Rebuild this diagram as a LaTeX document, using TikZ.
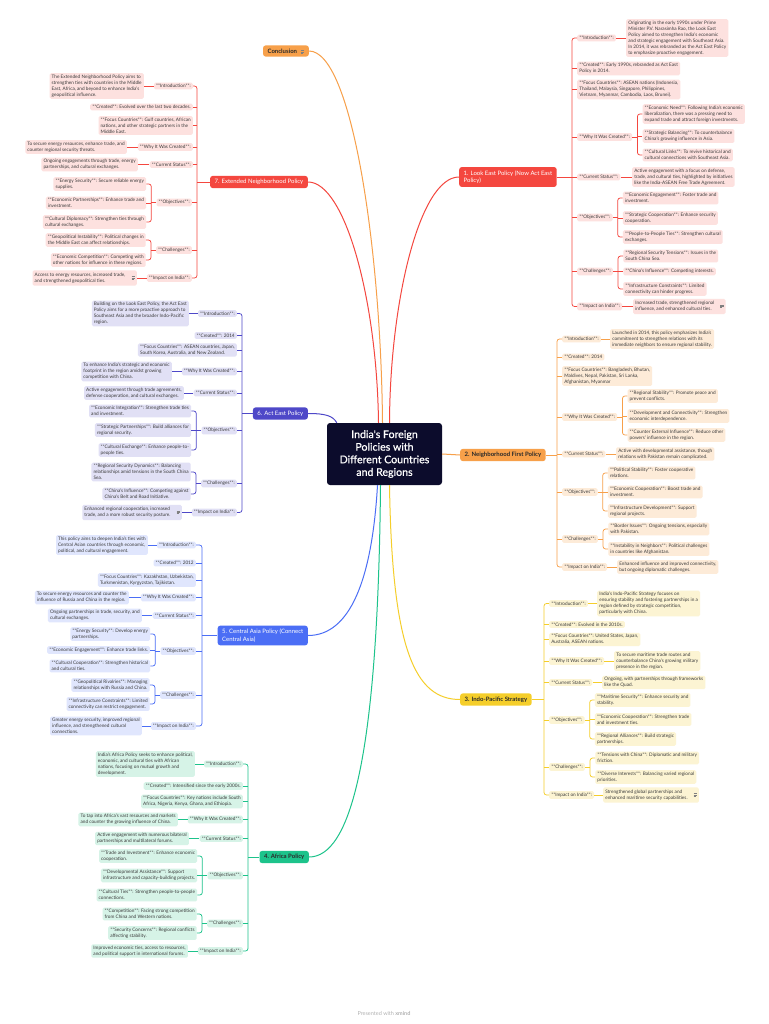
\documentclass[tikz,border=0pt]{standalone}
\usepackage{fontspec}
\setmainfont{Lato}
\newfontfamily\ctrfont[FakeBold=0.8]{Lato}
\usetikzlibrary{calc}
\definecolor{redM}{HTML}{F4473F}
\definecolor{redL}{HTML}{FDE1DF}
\definecolor{orgM}{HTML}{F7A04A}
\definecolor{orgL}{HTML}{FDEBD8}
\definecolor{yelM}{HTML}{F5CE2B}
\definecolor{yelL}{HTML}{FCF4D3}
\definecolor{grnM}{HTML}{1DC38B}
\definecolor{grnL}{HTML}{D6F3E7}
\definecolor{bluM}{HTML}{4B6EF5}
\definecolor{bluL}{HTML}{E0E6FD}
\definecolor{indM}{HTML}{4E48C8}
\definecolor{indL}{HTML}{E1E0F5}
\definecolor{navy}{HTML}{0C0C2C}
\definecolor{txtc}{HTML}{3A3A3A}
\definecolor{dtxt}{HTML}{2A2A2A}
\newcommand\noteic{\textcolor{gray}{\raisebox{0.2pt}{\vbox{\hrule width 3.2pt height 0.4pt \vskip 0.7pt \hrule width 3.2pt height 0.4pt \vskip 0.7pt \hrule width 2pt height 0.4pt}}}}
\tikzset{
  bx/.style={rounded corners=1.5pt, inner xsep=2.1pt, inner ysep=1.6pt, font=\fontsize{4.7}{6}\selectfont, align=left, text=txtc},
  rR/.style={bx, fill=redL, anchor=west}, rL/.style={bx, fill=redL, anchor=east},
  oR/.style={bx, fill=orgL, anchor=west},
  yR/.style={bx, fill=yelL, anchor=west},
  iL/.style={bx, fill=indL, anchor=east},
  bL/.style={bx, fill=bluL, anchor=east},
  gL/.style={bx, fill=grnL, anchor=east},
  mn/.style={rounded corners=2.5pt, inner xsep=4.5pt, inner ysep=3.3pt, font=\fontsize{6}{7.5}\selectfont, align=left},
  mnw/.style={mn, text=white},
  mnd/.style={mn, text=dtxt, font=\fontsize{6}{7.5}\selectfont\bfseries},
  rl/.style={draw=redM, line width=0.75pt, rounded corners=2.5pt},
  ol/.style={draw=orgM, line width=0.75pt, rounded corners=2.5pt},
  yl/.style={draw=yelM, line width=0.75pt, rounded corners=2.5pt},
  il/.style={draw=indM, line width=0.75pt, rounded corners=2.5pt},
  bl/.style={draw=bluM, line width=0.75pt, rounded corners=2.5pt},
  gl/.style={draw=grnM, line width=0.75pt, rounded corners=2.5pt},
  cv/.style={line width=1pt},
}
\begin{document}
\begin{tikzpicture}[x=1pt,y=-1pt]
\useasboundingbox[fill=white] (0,0) rectangle (768,1024);

% ---------- center ----------
\node[fill=navy, rounded corners=3pt, minimum width=115pt, minimum height=62pt, text=white, align=center, font=\ctrfont\fontsize{10.6}{12.6}\selectfont] (ctr) at (384.5,454) {India's Foreign\\Policies with\\Different Countries\\and Regions};

% ---------- main topics ----------
\node[mnw, fill=redM, anchor=west] (A) at (459,177) {1. Look East Policy (Now Act East\\Policy)};
\node[mnd, fill=orgM, anchor=west] (B) at (460,455) {2. Neighborhood First Policy};
\node[mnd, fill=yelM, anchor=west] (C) at (460,699.5) {3. Indo-Pacific Strategy};
\node[mnd, fill=grnM, anchor=east] (G) at (309,857) {4. Africa Policy};
\node[mnw, fill=bluM, anchor=east] (F) at (308,635.5) {5. Central Asia Policy (Connect\\Central Asia)};
\node[mnw, fill=indM, anchor=east] (E) at (308,413.5) {6. Act East Policy};
\node[mnw, fill=redM, anchor=east] (D) at (308,182) {7. Extended Neighborhood Policy};
\node[mnd, fill=orgM, anchor=east] (K) at (309,51) {Conclusion\hspace{4pt}\noteic};

% ---------- main curves ----------
\draw[cv, draw=orgM] (K.east) .. controls (352,51) and (381,250) .. ([xshift=-2pt]ctr.north);
\draw[cv, draw=redM] (D.east) .. controls (345,182) and (377,300) .. ([xshift=-6pt]ctr.north);
\draw[cv, draw=redM] (A.west) .. controls (420,177) and (390,300) .. ([xshift=5pt]ctr.north);
\draw[cv, draw=indM] (E.east) .. controls (326,413.5) and (333,416) .. ([xshift=10pt]ctr.north west);
\draw[cv, draw=orgM] (ctr.east) -- (B.west);
\draw[cv, draw=bluM] ([xshift=-7pt]ctr.south) .. controls (372,580) and (350,635.5) .. (F.east);
\draw[cv, draw=grnM] ([xshift=-4pt]ctr.south) .. controls (378,760) and (350,857) .. (G.east);
\draw[cv, draw=yelM] ([xshift=5pt]ctr.south) .. controls (392,650) and (415,699.5) .. (C.west);

% ================= 1. Look East =================
\node[rR] (a1) at (577,38) {**Introduction**:};
\node[rR] (a1d) at (626,38) {Originating in the early 1990s under Prime\\Minister P.V. Narasimha Rao, the Look East\\Policy aimed to strengthen India's economic\\and strategic engagement with Southeast Asia.\\In 2014, it was rebranded as the Act East Policy\\to emphasize proactive engagement.};
\node[rR] (a2) at (577,68.5) {**Created**: Early 1990s, rebranded as Act East\\Policy in 2014.};
\node[rR] (a3) at (577,89.5) {**Focus Countries**: ASEAN nations (Indonesia,\\Thailand, Malaysia, Singapore, Philippines,\\Vietnam, Myanmar, Cambodia, Laos, Brunei).};
\node[rR] (a4) at (577,137) {**Why It Was Created**:};
\node[rR] (a4a) at ($(a4.east |- 0,114)+(10,0)$) {**Economic Need**: Following India's economic\\liberalization, there was a pressing need to\\expand trade and attract foreign investments.};
\node[rR] (a4b) at ($(a4.east |- 0,136)+(10,0)$) {**Strategic Balancing**: To counterbalance\\China's growing influence in Asia.};
\node[rR] (a4c) at ($(a4.east |- 0,155)+(10,0)$) {**Cultural Links**: To revive historical and\\cultural connections with Southeast Asia.};
\node[rR] (a5) at (577,177) {**Current Status**:};
\node[rR] (a5d) at (632,177) {Active engagement with a focus on defense,\\trade, and cultural ties, highlighted by initiatives\\like the India-ASEAN Free Trade Agreement.};
\node[rR] (a6) at (577,217.5) {**Objectives**:};
\node[rR] (a6a) at ($(a6.east |- 0,198)+(10,0)$) {**Economic Engagement**: Foster trade and\\investment.};
\node[rR] (a6b) at ($(a6.east |- 0,218)+(10,0)$) {**Strategic Cooperation**: Enhance security\\cooperation.};
\node[rR] (a6c) at ($(a6.east |- 0,237)+(10,0)$) {**People-to-People Ties**: Strengthen cultural\\exchanges.};
\node[rR] (a7) at (577,271.5) {**Challenges**:};
\node[rR] (a7a) at ($(a7.east |- 0,256)+(10,0)$) {**Regional Security Tensions**: Issues in the\\South China Sea.};
\node[rR] (a7b) at ($(a7.east |- 0,271.5)+(10,0)$) {**China's Influence**: Competing interests.};
\node[rR] (a7c) at ($(a7.east |- 0,289)+(10,0)$) {**Infrastructure Constraints**: Limited\\connectivity can hinder progress.};
\node[rR] (a8) at (577,306.5) {**Impact on India**:};
\node[rR] (a8d) at (633,306.5) {\begin{tabular}{@{}l@{}}Increased trade, strengthened regional\\influence, and enhanced cultural ties.\end{tabular}\hspace{6pt}\noteic};

\coordinate (As) at (572,177);
\draw[rl] (A.east) -- (As);
\draw[rl] (a1.west) -| (As) |- (a8.west);
\foreach \n in {a2,a3,a4,a5,a6,a7} \draw[rl] (As |- \n.west) -- (\n.west);
\foreach \n in {a1,a5,a8} \draw[rl] (\n.east) -- (\n d.west);
\foreach \p/\f/\l/\m in {a4/a4a/a4c/a4b, a6/a6a/a6c/a6b, a7/a7a/a7c/a7b} {
  \coordinate (\p s) at ($(\p.east)+(5,0)$);
  \draw[rl] (\p.east) -- (\p s);
  \draw[rl] (\f.west) -| (\p s) |- (\l.west);
  \draw[rl] (\p s |- \m.west) -- (\m.west);
}

% ================= 2. Neighborhood First =================
\node[oR] (b1) at (562,339) {**Introduction**:};
\node[oR] (b1d) at (610,339) {Launched in 2014, this policy emphasizes India's\\commitment to strengthen relations with its\\immediate neighbors to ensure regional stability.};
\node[oR] (b2) at (562,357) {**Created**: 2014};
\node[oR] (b3) at (562,376) {**Focus Countries**: Bangladesh, Bhutan,\\Maldives, Nepal, Pakistan, Sri Lanka,\\Afghanistan, Myanmar};
\node[oR] (b4) at (562,417) {**Why It Was Created**:};
\node[oR] (b4a) at ($(b4.east |- 0,396)+(10,0)$) {**Regional Stability**: Promote peace and\\prevent conflicts.};
\node[oR] (b4b) at ($(b4.east |- 0,416)+(10,0)$) {**Development and Connectivity**: Strengthen\\economic interdependence.};
\node[oR] (b4c) at ($(b4.east |- 0,435)+(10,0)$) {**Counter External Influence**: Reduce other\\powers' influence in the region.};
\node[oR] (b5) at (562,454) {**Current Status**:};
\node[oR] (b5d) at (616,454) {Active with developmental assistance, though\\relations with Pakistan remain complicated.};
\node[oR] (b6) at (562,492) {**Objectives**:};
\node[oR] (b6a) at ($(b6.east |- 0,473)+(10,0)$) {**Political Stability**: Foster cooperative\\relations.};
\node[oR] (b6b) at ($(b6.east |- 0,492)+(10,0)$) {**Economic Cooperation**: Boost trade and\\investment.};
\node[oR] (b6c) at ($(b6.east |- 0,511)+(10,0)$) {**Infrastructure Development**: Support\\regional projects.};
\node[oR] (b7) at (562,539) {**Challenges**:};
\node[oR] (b7a) at ($(b7.east |- 0,529)+(10,0)$) {**Border Issues**: Ongoing tensions, especially\\with Pakistan.};
\node[oR] (b7b) at ($(b7.east |- 0,549)+(10,0)$) {**Instability in Neighbors**: Political challenges\\in countries like Afghanistan.};
\node[oR] (b8) at (562,567) {**Impact on India**:};
\node[oR] (b8d) at (617,567) {Enhanced influence and improved connectivity,\\but ongoing diplomatic challenges.};

\coordinate (Bs) at (557,455);
\draw[ol] (B.east) -- (Bs);
\draw[ol] (b1.west) -| (Bs) |- (b8.west);
\foreach \n in {b2,b3,b4,b5,b6,b7} \draw[ol] (Bs |- \n.west) -- (\n.west);
\foreach \n in {b1,b5,b8} \draw[ol] (\n.east) -- (\n d.west);
\foreach \p/\f/\l/\m in {b4/b4a/b4c/b4b, b6/b6a/b6c/b6b} {
  \coordinate (\p s) at ($(\p.east)+(5,0)$);
  \draw[ol] (\p.east) -- (\p s);
  \draw[ol] (\f.west) -| (\p s) |- (\l.west);
  \draw[ol] (\p s |- \m.west) -- (\m.west);
}
\coordinate (b7s) at ($(b7.east)+(5,0)$);
\draw[ol] (b7.east) -- (b7s);
\draw[ol] (b7a.west) -| (b7s) |- (b7b.west);

% ================= 3. Indo-Pacific =================
\node[yR] (c1) at (549,603.5) {**Introduction**:};
\node[yR] (c1d) at (597,603.5) {India's Indo-Pacific Strategy focuses on\\ensuring stability and fostering partnerships in a\\region defined by strategic competition,\\particularly with China.};
\node[yR] (c2) at (549,624.5) {**Created**: Evolved in the 2010s.};
\node[yR] (c3) at (549,639.5) {**Focus Countries**: United States, Japan,\\Australia, ASEAN nations.};
\node[yR] (c4) at (549,661) {**Why It Was Created**:};
\node[yR] (c4d) at (614,661) {To secure maritime trade routes and\\counterbalance China's growing military\\presence in the region.};
\node[yR] (c5) at (549,682.5) {**Current Status**:};
\node[yR] (c5d) at (602,682.5) {Ongoing, with partnerships through frameworks\\like the Quad.};
\node[yR] (c6) at (549,720) {**Objectives**:};
\node[yR] (c6a) at ($(c6.east |- 0,700)+(10,0)$) {**Maritime Security**: Enhance security and\\stability.};
\node[yR] (c6b) at ($(c6.east |- 0,719.5)+(10,0)$) {**Economic Cooperation**: Strengthen trade\\and investment ties.};
\node[yR] (c6c) at ($(c6.east |- 0,739)+(10,0)$) {**Regional Alliances**: Build strategic\\partnerships.};
\node[yR] (c7) at (549,767) {**Challenges**:};
\node[yR] (c7a) at ($(c7.east |- 0,758)+(10,0)$) {**Tensions with China**: Diplomatic and military\\friction.};
\node[yR] (c7b) at ($(c7.east |- 0,777)+(10,0)$) {**Diverse Interests**: Balancing varied regional\\priorities.};
\node[yR] (c8) at (549,795) {**Impact on India**:};
\node[yR] (c8d) at (603,795) {\begin{tabular}{@{}l@{}}Strengthened global partnerships and\\enhanced maritime security capabilities.\end{tabular}\hspace{6pt}\noteic};

\coordinate (Cs) at (544,699.5);
\draw[yl] (C.east) -- (Cs);
\draw[yl] (c1.west) -| (Cs) |- (c8.west);
\foreach \n in {c2,c3,c4,c5,c6,c7} \draw[yl] (Cs |- \n.west) -- (\n.west);
\foreach \n in {c1,c4,c5,c8} \draw[yl] (\n.east) -- (\n d.west);
\coordinate (c6s) at ($(c6.east)+(5,0)$);
\draw[yl] (c6.east) -- (c6s);
\draw[yl] (c6a.west) -| (c6s) |- (c6c.west);
\draw[yl] (c6s |- c6b.west) -- (c6b.west);
\coordinate (c7s) at ($(c7.east)+(5,0)$);
\draw[yl] (c7.east) -- (c7s);
\draw[yl] (c7a.west) -| (c7s) |- (c7b.west);

% ================= 7. Extended Neighborhood =================
\node[rL] (d1) at (193,86) {**Introduction**:};
\node[rL] (d1d) at (144,86) {The Extended Neighborhood Policy aims to\\strengthen ties with countries in the Middle\\East, Africa, and beyond to enhance India's\\geopolitical influence.};
\node[rL] (d2) at (193,107) {**Created**: Evolved over the last two decades.};
\node[rL] (d3) at (193,125.5) {**Focus Countries**: Gulf countries, African\\nations, and other strategic partners in the\\Middle East.};
\node[rL] (d4) at (193,147) {**Why It Was Created**:};
\node[rL] (d4d) at (127,147) {To secure energy resources, enhance trade, and\\counter regional security threats.};
\node[rL] (d5) at (193,164.5) {**Current Status**:};
\node[rL] (d5d) at (138,164.5) {Ongoing engagements through trade, energy\\partnerships, and cultural exchanges.};
\node[rL] (d6) at (192,202.5) {**Objectives**:};
\node[rL] (d6a) at ($(d6.west |- 0,184)+(-10,0)$) {**Energy Security**: Secure reliable energy\\supplies.};
\node[rL] (d6b) at ($(d6.west |- 0,203)+(-10,0)$) {**Economic Partnerships**: Enhance trade and\\investment.};
\node[rL] (d6c) at ($(d6.west |- 0,222)+(-10,0)$) {**Cultural Diplomacy**: Strengthen ties through\\cultural exchanges.};
\node[rL] (d7) at (192,250) {**Challenges**:};
\node[rL] (d7a) at ($(d7.west |- 0,240)+(-10,0)$) {**Geopolitical Instability**: Political changes in\\the Middle East can affect relationships.};
\node[rL] (d7b) at ($(d7.west |- 0,260)+(-10,0)$) {**Economic Competition**: Competing with\\other nations for influence in these regions.};
\node[rL] (d8) at (192,278) {**Impact on India**:};
\node[rL] (d8d) at (137,278) {\begin{tabular}{@{}l@{}}Access to energy resources, increased trade,\\and strengthened geopolitical ties.\end{tabular}\hspace{6pt}\noteic};

\coordinate (Ds) at (197,182);
\draw[rl] (D.west) -- (Ds);
\draw[rl] (d1.east) -| (Ds) |- (d8.east);
\foreach \n in {d2,d3,d4,d5,d6,d7} \draw[rl] (Ds |- \n.east) -- (\n.east);
\foreach \n in {d1,d4,d5,d8} \draw[rl] (\n.west) -- (\n d.east);
\coordinate (d6s) at ($(d6.west)+(-5,0)$);
\draw[rl] (d6.west) -- (d6s);
\draw[rl] (d6a.east) -| (d6s) |- (d6c.east);
\draw[rl] (d6s |- d6b.east) -- (d6b.east);
\coordinate (d7s) at ($(d7.west)+(-5,0)$);
\draw[rl] (d7.west) -- (d7s);
\draw[rl] (d7a.east) -| (d7s) |- (d7b.east);

% ================= 6. Act East =================
\node[iL] (e1) at (237,313.5) {**Introduction**:};
\node[iL] (e1d) at (189,313.5) {Building on the Look East Policy, the Act East\\Policy aims for a more proactive approach to\\Southeast Asia and the broader Indo-Pacific\\region.};
\node[iL] (e2) at (237,335.5) {**Created**: 2014};
\node[iL] (e3) at (237,350) {**Focus Countries**: ASEAN countries, Japan,\\South Korea, Australia, and New Zealand.};
\node[iL] (e4) at (237,371.5) {**Why It Was Created**:};
\node[iL] (e4d) at (172,371.5) {To enhance India's strategic and economic\\footprint in the region amidst growing\\competition with China.};
\node[iL] (e5) at (237,393) {**Current Status**:};
\node[iL] (e5d) at (184,393) {Active engagement through trade agreements,\\defense cooperation, and cultural exchanges.};
\node[iL] (e6) at (237,430.5) {**Objectives**:};
\node[iL] (e6a) at ($(e6.west |- 0,411)+(-10,0)$) {**Economic Integration**: Strengthen trade ties\\and investment.};
\node[iL] (e6b) at ($(e6.west |- 0,430)+(-10,0)$) {**Strategic Partnerships**: Build alliances for\\regional security.};
\node[iL] (e6c) at ($(e6.west |- 0,450)+(-10,0)$) {**Cultural Exchange**: Enhance people-to-\\people ties.};
\node[iL] (e7) at (237,483.5) {**Challenges**:};
\node[iL] (e7a) at ($(e7.west |- 0,472)+(-10,0)$) {**Regional Security Dynamics**: Balancing\\relationships amid tensions in the South China\\Sea.};
\node[iL] (e7b) at ($(e7.west |- 0,494)+(-10,0)$) {**China's Influence**: Competing against\\China's Belt and Road Initiative.};
\node[iL] (e8) at (237,512.5) {**Impact on India**:};
\node[iL] (e8d) at (182,512.5) {\begin{tabular}{@{}l@{}}Enhanced regional cooperation, increased\\trade, and a more robust security posture.\end{tabular}\hspace{6pt}\noteic};

\coordinate (Es) at (242,413.5);
\draw[il] (E.west) -- (Es);
\draw[il] (e1.east) -| (Es) |- (e8.east);
\foreach \n in {e2,e3,e4,e5,e6,e7} \draw[il] (Es |- \n.east) -- (\n.east);
\foreach \n in {e1,e4,e5,e8} \draw[il] (\n.west) -- (\n d.east);
\coordinate (e6s) at ($(e6.west)+(-5,0)$);
\draw[il] (e6.west) -- (e6s);
\draw[il] (e6a.east) -| (e6s) |- (e6c.east);
\draw[il] (e6s |- e6b.east) -- (e6b.east);
\coordinate (e7s) at ($(e7.west)+(-5,0)$);
\draw[il] (e7.west) -- (e7s);
\draw[il] (e7a.east) -| (e7s) |- (e7b.east);

% ================= 5. Central Asia =================
\node[bL] (f1) at (196,545) {**Introduction**:};
\node[bL] (f1d) at (148,545) {This policy aims to deepen India's ties with\\Central Asian countries through economic,\\political, and cultural engagement.};
\node[bL] (f2) at (196,563) {**Created**: 2012};
\node[bL] (f3) at (196,580) {**Focus Countries**: Kazakhstan, Uzbekistan,\\Turkmenistan, Kyrgyzstan, Tajikistan.};
\node[bL] (f4) at (196,597.5) {**Why It Was Created**:};
\node[bL] (f4d) at (129,597.5) {To secure energy resources and counter the\\influence of Russia and China in the region.};
\node[bL] (f5) at (196,615.5) {**Current Status**:};
\node[bL] (f5d) at (142,615.5) {Ongoing partnerships in trade, security, and\\cultural exchanges.};
\node[bL] (f6) at (196,651) {**Objectives**:};
\node[bL] (f6a) at ($(f6.west |- 0,634)+(-10,0)$) {**Energy Security**: Develop energy\\partnerships.};
\node[bL] (f6b) at ($(f6.west |- 0,650)+(-10,0)$) {**Economic Engagement**: Enhance trade links.};
\node[bL] (f6c) at ($(f6.west |- 0,666)+(-10,0)$) {**Cultural Cooperation**: Strengthen historical\\and cultural ties.};
\node[bL] (f7) at (196,695) {**Challenges**:};
\node[bL] (f7a) at ($(f7.west |- 0,685)+(-10,0)$) {**Geopolitical Rivalries**: Managing\\relationships with Russia and China.};
\node[bL] (f7b) at ($(f7.west |- 0,704)+(-10,0)$) {**Infrastructure Constraints**: Limited\\connectivity can restrict engagement.};
\node[bL] (f8) at (196,726) {**Impact on India**:};
\node[bL] (f8d) at (142,726) {Greater energy security, improved regional\\influence, and strengthened cultural\\connections.};

\coordinate (Fs) at (202,635.5);
\draw[bl] (F.west) -- (Fs);
\draw[bl] (f1.east) -| (Fs) |- (f8.east);
\foreach \n in {f2,f3,f4,f5,f6,f7} \draw[bl] (Fs |- \n.east) -- (\n.east);
\foreach \n in {f1,f4,f5,f8} \draw[bl] (\n.west) -- (\n d.east);
\coordinate (f6s) at ($(f6.west)+(-5,0)$);
\draw[bl] (f6.west) -- (f6s);
\draw[bl] (f6a.east) -| (f6s) |- (f6c.east);
\draw[bl] (f6s |- f6b.east) -- (f6b.east);
\coordinate (f7s) at ($(f7.west)+(-5,0)$);
\draw[bl] (f7.west) -- (f7s);
\draw[bl] (f7a.east) -| (f7s) |- (f7b.east);

% ================= 4. Africa =================
\node[gL] (g1) at (243,764) {**Introduction**:};
\node[gL] (g1d) at (195,764) {India's Africa Policy seeks to enhance political,\\economic, and cultural ties with African\\nations, focusing on mutual growth and\\development.};
\node[gL] (g2) at (243,786) {**Created**: Intensified since the early 2000s.};
\node[gL] (g3) at (243,801.5) {**Focus Countries**: Key nations include South\\Africa, Nigeria, Kenya, Ghana, and Ethiopia.};
\node[gL] (g4) at (243,819.5) {**Why It Was Created**:};
\node[gL] (g4d) at (178,819.5) {To tap into Africa's vast resources and markets\\and counter the growing influence of China.};
\node[gL] (g5) at (243,838.5) {**Current Status**:};
\node[gL] (g5d) at (189,838.5) {Active engagement with numerous bilateral\\partnerships and multilateral forums.};
\node[gL] (g6) at (243,875.5) {**Objectives**:};
\node[gL] (g6a) at ($(g6.west |- 0,856)+(-10,0)$) {**Trade and Investment**: Enhance economic\\cooperation.};
\node[gL] (g6b) at ($(g6.west |- 0,875.5)+(-10,0)$) {**Developmental Assistance**: Support\\infrastructure and capacity-building projects.};
\node[gL] (g6c) at ($(g6.west |- 0,895)+(-10,0)$) {**Cultural Ties**: Strengthen people-to-people\\connections.};
\node[gL] (g7) at (243,923.5) {**Challenges**:};
\node[gL] (g7a) at ($(g7.west |- 0,914)+(-10,0)$) {**Competition**: Facing strong competition\\from China and Western nations.};
\node[gL] (g7b) at ($(g7.west |- 0,933)+(-10,0)$) {**Security Concerns**: Regional conflicts\\affecting stability.};
\node[gL] (g8) at (243,951) {**Impact on India**:};
\node[gL] (g8d) at (188,951) {Improved economic ties, access to resources,\\and political support in international forums.};

\coordinate (Gs) at (248,857);
\draw[gl] (G.west) -- (Gs);
\draw[gl] (g1.east) -| (Gs) |- (g8.east);
\foreach \n in {g2,g3,g4,g5,g6,g7} \draw[gl] (Gs |- \n.east) -- (\n.east);
\foreach \n in {g1,g4,g5,g8} \draw[gl] (\n.west) -- (\n d.east);
\coordinate (g6s) at ($(g6.west)+(-5,0)$);
\draw[gl] (g6.west) -- (g6s);
\draw[gl] (g6a.east) -| (g6s) |- (g6c.east);
\draw[gl] (g6s |- g6b.east) -- (g6b.east);
\coordinate (g7s) at ($(g7.west)+(-5,0)$);
\draw[gl] (g7.west) -- (g7s);
\draw[gl] (g7a.east) -| (g7s) |- (g7b.east);

% footer
\node[text=black!30, font=\fontsize{5.5}{6}\selectfont] (foot) at (384,1013) {Presented with \textbf{xmind}};
\end{tikzpicture}
\end{document}
